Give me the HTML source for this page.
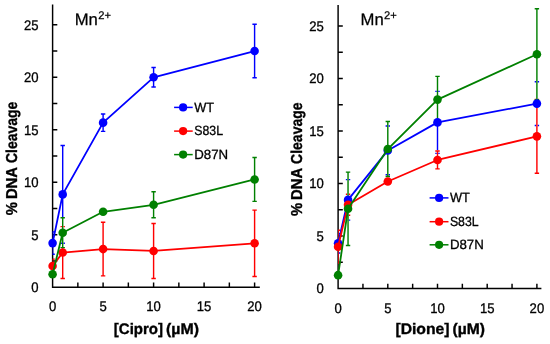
<!DOCTYPE html>
<html lang="en">
<head>
<meta charset="utf-8">
<title>Mn2+ DNA cleavage</title>
<style>
html,body{margin:0;padding:0;background:#fff;}
body{width:550px;height:344px;overflow:hidden;font-family:"Liberation Sans",Arial,sans-serif;}
svg{display:block;}
text{text-rendering:geometricPrecision;}
</style>
</head>
<body>
<svg width="550" height="344" viewBox="0 0 550 344">
<rect width="550" height="344" fill="#fff"/>
<g>
<path d="M52.60 4.50V287.30H259.80M77.85 287.30v-4.7M103.10 287.30v-4.7M128.35 287.30v-4.7M153.60 287.30v-4.7M178.85 287.30v-4.7M204.10 287.30v-4.7M229.35 287.30v-4.7M254.60 287.30v-4.7M52.60 261.05h4.7M52.60 234.80h4.7M52.60 208.55h4.7M52.60 182.30h4.7M52.60 156.05h4.7M52.60 129.80h4.7M52.60 103.55h4.7M52.60 77.30h4.7M52.60 51.05h4.7M52.60 24.80h4.7" stroke="#000" stroke-width="1.45" fill="none"/>
<g stroke="#0000ff" stroke-width="1.42" fill="none"><path d="M52.60 231.86h0.71V254.33h-0.71z" fill="#0000ff" stroke="none"/><path d="M52.60 231.86h2.20M52.60 254.33h2.20"/><path d="M62.70 145.55V217.04M60.50 145.55h4.40M60.50 243.20h1.45M63.45 243.20h1.45"/><path d="M103.10 113.95V131.38M100.90 113.95h4.40M100.90 131.38h4.40"/><path d="M153.60 67.54V87.06M151.40 67.54h4.40M151.40 87.06h4.40"/><path d="M254.60 24.27V77.83M252.40 24.27h4.40M252.40 77.83h4.40"/></g>
<g stroke="#ff0000" stroke-width="1.42" fill="none"><path d="M52.60 259.16h0.71V272.81h-0.71z" fill="#ff0000" stroke="none"/><path d="M52.60 259.16h2.20M52.60 272.81h2.20"/><path d="M62.70 248.36V278.48M60.50 226.61h1.45M63.45 226.61h1.45M60.50 278.48h4.40"/><path d="M103.10 222.31V275.86M100.90 222.31h4.40M100.90 275.86h4.40"/><path d="M153.60 223.46V278.48M151.40 223.46h4.40M151.40 278.48h4.40"/><path d="M254.60 210.12V276.49M252.40 210.12h4.40M252.40 276.49h4.40"/></g>
<g stroke="#008000" stroke-width="1.42" fill="none"><path d="M62.70 217.79V247.61M60.50 217.79h4.40M60.50 247.61h4.40"/><path d="M153.60 191.75V217.79M151.40 191.75h4.40M151.40 217.79h4.40"/><path d="M254.60 157.52V201.41M252.40 157.52h4.40M252.40 201.41h4.40"/></g>
<path d="M52.60 243.10 L62.70 194.38 L103.10 122.66 L153.60 77.30 L254.60 51.05" stroke="#0000ff" stroke-width="1.8" fill="none" stroke-linejoin="round"/>
<g fill="#0000ff"><circle cx="52.60" cy="243.10" r="4.3"/><circle cx="62.70" cy="194.38" r="4.3"/><circle cx="103.10" cy="122.66" r="4.3"/><circle cx="153.60" cy="77.30" r="4.3"/><circle cx="254.60" cy="51.05" r="4.3"/></g>
<path d="M52.60 265.99 L62.70 252.55 L103.10 249.08 L153.60 250.97 L254.60 243.31" stroke="#ff0000" stroke-width="1.8" fill="none" stroke-linejoin="round"/>
<g fill="#ff0000"><circle cx="52.60" cy="265.99" r="4.3"/><circle cx="62.70" cy="252.55" r="4.3"/><circle cx="103.10" cy="249.08" r="4.3"/><circle cx="153.60" cy="250.97" r="4.3"/><circle cx="254.60" cy="243.31" r="4.3"/></g>
<path d="M52.60 274.18 L62.70 232.70 L103.10 211.81 L153.60 204.77 L254.60 179.47" stroke="#008000" stroke-width="1.8" fill="none" stroke-linejoin="round"/>
<g fill="#008000"><circle cx="52.60" cy="274.18" r="4.3"/><circle cx="62.70" cy="232.70" r="4.3"/><circle cx="103.10" cy="211.81" r="4.3"/><circle cx="153.60" cy="204.77" r="4.3"/><circle cx="254.60" cy="179.47" r="4.3"/></g>
<g font-family="Liberation Sans, Arial, Helvetica, sans-serif" font-size="13.8" fill="#000" stroke="#000" stroke-width="0.3"><text x="52.60" y="311.30" text-anchor="middle" textLength="7.3" lengthAdjust="spacingAndGlyphs">0</text><text x="103.10" y="311.30" text-anchor="middle" textLength="7.3" lengthAdjust="spacingAndGlyphs">5</text><text x="153.60" y="311.30" text-anchor="middle" textLength="14.6" lengthAdjust="spacingAndGlyphs">10</text><text x="204.10" y="311.30" text-anchor="middle" textLength="14.6" lengthAdjust="spacingAndGlyphs">15</text><text x="254.60" y="311.30" text-anchor="middle" textLength="14.6" lengthAdjust="spacingAndGlyphs">20</text><text x="38.60" y="292.00" text-anchor="end" textLength="7.3" lengthAdjust="spacingAndGlyphs">0</text><text x="38.60" y="239.50" text-anchor="end" textLength="7.3" lengthAdjust="spacingAndGlyphs">5</text><text x="38.60" y="187.00" text-anchor="end" textLength="14.6" lengthAdjust="spacingAndGlyphs">10</text><text x="38.60" y="134.50" text-anchor="end" textLength="14.6" lengthAdjust="spacingAndGlyphs">15</text><text x="38.60" y="82.00" text-anchor="end" textLength="14.6" lengthAdjust="spacingAndGlyphs">20</text><text x="38.60" y="29.50" text-anchor="end" textLength="14.6" lengthAdjust="spacingAndGlyphs">25</text></g>
<path d="M174.1 107.4H192.7" stroke="#0000ff" stroke-width="1.5"/><circle cx="183.1" cy="107.4" r="4.1" fill="#0000ff"/>
<text x="194.3" y="111.70" font-family="Liberation Sans, Arial, Helvetica, sans-serif" font-size="13.4" textLength="19.9" lengthAdjust="spacingAndGlyphs" fill="#000" stroke="#000" stroke-width="0.3">WT</text>
<path d="M174.1 131.1H192.7" stroke="#ff0000" stroke-width="1.5"/><circle cx="183.1" cy="131.1" r="4.1" fill="#ff0000"/>
<text x="194.3" y="135.40" font-family="Liberation Sans, Arial, Helvetica, sans-serif" font-size="13.4" textLength="28.7" lengthAdjust="spacingAndGlyphs" fill="#000" stroke="#000" stroke-width="0.3">S83L</text>
<path d="M174.1 154.6H192.7" stroke="#008000" stroke-width="1.5"/><circle cx="183.1" cy="154.6" r="4.1" fill="#008000"/>
<text x="194.3" y="158.90" font-family="Liberation Sans, Arial, Helvetica, sans-serif" font-size="13.4" textLength="33.9" lengthAdjust="spacingAndGlyphs" fill="#000" stroke="#000" stroke-width="0.3">D87N</text>
<text x="74.7" y="24.75" font-family="Liberation Sans, Arial, Helvetica, sans-serif" font-size="16.7" fill="#000" stroke="#000" stroke-width="0.25">Mn<tspan font-size="11.2" dx="0.3" dy="-5.5">2+</tspan></text>
<text x="113.8" y="333.6" font-family="Liberation Sans, Arial, Helvetica, sans-serif" font-size="15.3" font-weight="bold" lengthAdjust="spacingAndGlyphs" fill="#000" stroke="#000" stroke-width="0.35" textLength="49.2">[Cipro]</text><text x="166.0" y="333.6" font-family="Liberation Sans, Arial, Helvetica, sans-serif" font-size="15.3" font-weight="bold" lengthAdjust="spacingAndGlyphs" fill="#000" stroke="#000" stroke-width="0.35" textLength="33.0">(µM)</text>
<g transform="translate(16.6 214.7) rotate(-90)"><text x="-0.6" y="0" font-family="Liberation Sans, Arial, Helvetica, sans-serif" font-size="15.8" font-weight="bold" lengthAdjust="spacingAndGlyphs" fill="#000" stroke="#000" stroke-width="0.35" textLength="13.2">%</text><text x="15.6" y="0" font-family="Liberation Sans, Arial, Helvetica, sans-serif" font-size="15.8" font-weight="bold" lengthAdjust="spacingAndGlyphs" fill="#000" stroke="#000" stroke-width="0.35" textLength="32.2">DNA</text><text x="51.6" y="0" font-family="Liberation Sans, Arial, Helvetica, sans-serif" font-size="15.8" font-weight="bold" lengthAdjust="spacingAndGlyphs" fill="#000" stroke="#000" stroke-width="0.35" textLength="61.4">Cleavage</text></g>
</g>
<g>
<path d="M338.10 5.00V288.50H541.40M362.95 288.50v-4.7M387.80 288.50v-4.7M412.65 288.50v-4.7M437.50 288.50v-4.7M462.35 288.50v-4.7M487.20 288.50v-4.7M512.05 288.50v-4.7M536.90 288.50v-4.7M338.10 262.25h4.7M338.10 236.00h4.7M338.10 209.75h4.7M338.10 183.50h4.7M338.10 157.25h4.7M338.10 131.00h4.7M338.10 104.75h4.7M338.10 78.50h4.7M338.10 52.25h4.7M338.10 26.00h4.7" stroke="#000" stroke-width="1.45" fill="none"/>
<g stroke="#0000ff" stroke-width="1.42" fill="none"><path d="M338.10 233.64h2.20M338.10 252.96h2.20"/><path d="M345.84 179.62h1.45M348.79 179.62h1.45M345.84 220.14h1.45M348.79 220.14h1.45"/><path d="M385.60 126.06h1.45M388.55 126.06h1.45M385.60 174.78h1.45M388.55 174.78h1.45"/><path d="M437.50 123.56V150.31M435.30 91.41h1.45M438.25 91.41h1.45M435.30 153.36h1.45M438.25 153.36h1.45"/><path d="M534.70 81.76h1.45M537.65 81.76h1.45M534.70 125.44h1.45M537.65 125.44h1.45"/></g>
<g stroke="#ff0000" stroke-width="1.42" fill="none"><path d="M338.10 230.33h0.71V263.09h-0.71z" fill="#ff0000" stroke="none"/><path d="M338.10 230.33h2.20M338.10 263.09h2.20"/><path d="M345.84 194.31h1.45M348.79 194.31h1.45M345.84 215.31h1.45M348.79 215.31h1.45"/><path d="M437.50 151.06V168.91M435.30 151.06h4.40M435.30 168.91h4.40"/><path d="M536.90 100.46V173.31M534.70 99.39h1.45M537.65 99.39h1.45M534.70 173.31h4.40"/></g>
<g stroke="#008000" stroke-width="1.42" fill="none"><path d="M348.04 172.16V245.45M345.84 172.16h4.40M345.84 245.45h4.40"/><path d="M387.80 121.55V176.57M385.60 121.55h4.40M385.60 176.57h4.40"/><path d="M437.50 76.40V122.81M435.30 76.40h4.40M435.30 122.81h4.40"/><path d="M536.90 8.78V99.71M534.70 8.78h4.40M534.70 99.71h4.40"/></g>
<path d="M338.10 243.30 L348.04 199.88 L387.80 150.42 L437.50 122.39 L536.90 103.59" stroke="#0000ff" stroke-width="1.8" fill="none" stroke-linejoin="round"/>
<g fill="#0000ff"><circle cx="338.10" cy="243.30" r="4.3"/><circle cx="348.04" cy="199.88" r="4.3"/><circle cx="387.80" cy="150.42" r="4.3"/><circle cx="437.50" cy="122.39" r="4.3"/><circle cx="536.90" cy="103.59" r="4.3"/></g>
<path d="M338.10 246.71 L348.04 204.81 L387.80 181.50 L437.50 159.98 L536.90 136.35" stroke="#ff0000" stroke-width="1.8" fill="none" stroke-linejoin="round"/>
<g fill="#ff0000"><circle cx="338.10" cy="246.71" r="4.3"/><circle cx="348.04" cy="204.81" r="4.3"/><circle cx="387.80" cy="181.50" r="4.3"/><circle cx="437.50" cy="159.98" r="4.3"/><circle cx="536.90" cy="136.35" r="4.3"/></g>
<path d="M338.10 275.17 L348.04 208.81 L387.80 149.06 L437.50 99.61 L536.90 54.25" stroke="#008000" stroke-width="1.8" fill="none" stroke-linejoin="round"/>
<g fill="#008000"><circle cx="338.10" cy="275.17" r="4.3"/><circle cx="348.04" cy="208.81" r="4.3"/><circle cx="387.80" cy="149.06" r="4.3"/><circle cx="437.50" cy="99.61" r="4.3"/><circle cx="536.90" cy="54.25" r="4.3"/></g>
<g font-family="Liberation Sans, Arial, Helvetica, sans-serif" font-size="13.8" fill="#000" stroke="#000" stroke-width="0.3"><text x="338.10" y="312.50" text-anchor="middle" textLength="7.3" lengthAdjust="spacingAndGlyphs">0</text><text x="387.80" y="312.50" text-anchor="middle" textLength="7.3" lengthAdjust="spacingAndGlyphs">5</text><text x="437.50" y="312.50" text-anchor="middle" textLength="14.6" lengthAdjust="spacingAndGlyphs">10</text><text x="487.20" y="312.50" text-anchor="middle" textLength="14.6" lengthAdjust="spacingAndGlyphs">15</text><text x="536.90" y="312.50" text-anchor="middle" textLength="14.6" lengthAdjust="spacingAndGlyphs">20</text><text x="323.80" y="293.20" text-anchor="end" textLength="7.3" lengthAdjust="spacingAndGlyphs">0</text><text x="323.80" y="240.70" text-anchor="end" textLength="7.3" lengthAdjust="spacingAndGlyphs">5</text><text x="323.80" y="188.20" text-anchor="end" textLength="14.6" lengthAdjust="spacingAndGlyphs">10</text><text x="323.80" y="135.70" text-anchor="end" textLength="14.6" lengthAdjust="spacingAndGlyphs">15</text><text x="323.80" y="83.20" text-anchor="end" textLength="14.6" lengthAdjust="spacingAndGlyphs">20</text><text x="323.80" y="30.70" text-anchor="end" textLength="14.6" lengthAdjust="spacingAndGlyphs">25</text></g>
<path d="M429.6 197.9H448.5" stroke="#0000ff" stroke-width="1.5"/><circle cx="439.1" cy="197.9" r="4.1" fill="#0000ff"/>
<text x="449.9" y="202.20" font-family="Liberation Sans, Arial, Helvetica, sans-serif" font-size="13.4" textLength="19.9" lengthAdjust="spacingAndGlyphs" fill="#000" stroke="#000" stroke-width="0.3">WT</text>
<path d="M429.6 221.7H448.5" stroke="#ff0000" stroke-width="1.5"/><circle cx="439.1" cy="221.7" r="4.1" fill="#ff0000"/>
<text x="449.9" y="226.00" font-family="Liberation Sans, Arial, Helvetica, sans-serif" font-size="13.4" textLength="28.7" lengthAdjust="spacingAndGlyphs" fill="#000" stroke="#000" stroke-width="0.3">S83L</text>
<path d="M429.6 244.8H448.5" stroke="#008000" stroke-width="1.5"/><circle cx="439.1" cy="244.8" r="4.1" fill="#008000"/>
<text x="449.9" y="249.10" font-family="Liberation Sans, Arial, Helvetica, sans-serif" font-size="13.4" textLength="33.9" lengthAdjust="spacingAndGlyphs" fill="#000" stroke="#000" stroke-width="0.3">D87N</text>
<text x="360.6" y="24.55" font-family="Liberation Sans, Arial, Helvetica, sans-serif" font-size="16.7" fill="#000" stroke="#000" stroke-width="0.25">Mn<tspan font-size="11.2" dx="0.3" dy="-5.5">2+</tspan></text>
<text x="395.4" y="334.0" font-family="Liberation Sans, Arial, Helvetica, sans-serif" font-size="15.3" font-weight="bold" lengthAdjust="spacingAndGlyphs" fill="#000" stroke="#000" stroke-width="0.35" textLength="54.2">[Dione]</text><text x="452.6" y="334.0" font-family="Liberation Sans, Arial, Helvetica, sans-serif" font-size="15.3" font-weight="bold" lengthAdjust="spacingAndGlyphs" fill="#000" stroke="#000" stroke-width="0.35" textLength="32.4">(µM)</text>
<g transform="translate(302.1 215.5) rotate(-90)"><text x="-0.6" y="0" font-family="Liberation Sans, Arial, Helvetica, sans-serif" font-size="15.8" font-weight="bold" lengthAdjust="spacingAndGlyphs" fill="#000" stroke="#000" stroke-width="0.35" textLength="13.2">%</text><text x="15.6" y="0" font-family="Liberation Sans, Arial, Helvetica, sans-serif" font-size="15.8" font-weight="bold" lengthAdjust="spacingAndGlyphs" fill="#000" stroke="#000" stroke-width="0.35" textLength="32.2">DNA</text><text x="51.6" y="0" font-family="Liberation Sans, Arial, Helvetica, sans-serif" font-size="15.8" font-weight="bold" lengthAdjust="spacingAndGlyphs" fill="#000" stroke="#000" stroke-width="0.35" textLength="61.4">Cleavage</text></g>
</g>
</svg>
</body>
</html>
